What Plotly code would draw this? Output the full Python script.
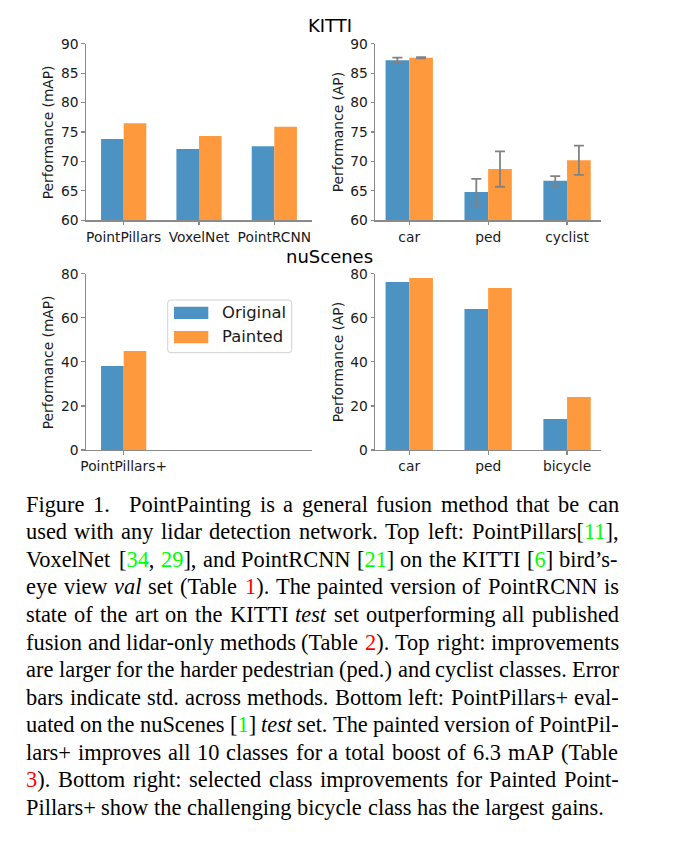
import re
import plotly.graph_objects as go

# ---------------- data ----------------
kitti_methods = ["PointPillars", "VoxelNet", "PointRCNN"]
kitti_methods_original = [73.8, 72.1, 72.6]
kitti_methods_painted = [76.5, 74.3, 75.9]

kitti_classes = ["car", "ped", "cyclist"]
kitti_classes_original = [87.2, 64.8, 66.7]
kitti_classes_painted = [87.6, 68.7, 70.2]
kitti_classes_original_std = [0.45, 2.25, 0.8]
kitti_classes_painted_std = [0.1, 3.0, 2.5]

nusc_methods = ["PointPillars+"]
nusc_methods_original = [38.1]
nusc_methods_painted = [44.9]

nusc_classes = ["car", "ped", "bicycle"]
nusc_classes_original = [76.2, 64.0, 14.1]
nusc_classes_painted = [78.0, 73.5, 24.0]

series_names = ["Original", "Painted"]
kitti_ticks = [60, 65, 70, 75, 80, 85, 90]
nusc_ticks = [0, 20, 40, 60, 80]

caption_lines = [
    "Figure 1.   PointPainting is a general fusion method that be can",
    "used with any lidar detection network. Top left: PointPillars[{g:11}],",
    "VoxelNet [{g:34}, {g:29}], and PointRCNN [{g:21}] on the KITTI [{g:6}] bird\u2019s-",
    "eye view {i:val} set (Table {r:1}). The painted version of PointRCNN is",
    "state of the art on the KITTI {i:test} set outperforming all published",
    "fusion and lidar-only methods (Table {r:2}). Top right: improvements",
    "are larger for the harder pedestrian (ped.) and cyclist classes. Error",
    "bars indicate std. across methods. Bottom left: PointPillars+ eval-",
    "uated on the nuScenes [{g:1}] {i:test} set. The painted version of PointPil-",
    "lars+ improves all 10 classes for a total boost of 6.3 mAP (Table",
    "{r:3}). Bottom right: selected class improvements for Painted Point-",
    "Pillars+ show the challenging bicycle class has the largest gains.",
]

# ---------------- styling ----------------
W, H = 692, 851
BLUE = "#4c92c3"
ORANGE = "#ff993e"
AXC = "#8a8a8a"
TXT = "#1a1a1a"
SANS = "DejaVu Sans"
TICK_FS = 13.8


def px(x):
    return x / W


def py(y):
    return 1 - y / H


LEFT_X = (86, 312)
RIGHT_X = (375.3, 601)
TOP_Y = (43.7, 220.3)
BOT_Y = (273.7, 450)

fig = go.Figure()


def add_bars(cats, orig, paint, xa, ya, err_o=None, err_p=None):
    for vals, off, col, err in ((orig, -0.3, BLUE, err_o), (paint, 0.0, ORANGE, err_p)):
        kw = {}
        if err is not None:
            kw["error_y"] = dict(type="data", array=err, visible=True,
                                 color="#828282", thickness=1.8, width=5)
        fig.add_trace(go.Bar(x=cats, y=vals, offset=off, width=0.3,
                             marker=dict(color=col, line=dict(width=0)),
                             xaxis=xa, yaxis=ya, showlegend=False, **kw))


add_bars(kitti_methods, kitti_methods_original, kitti_methods_painted, "x", "y")
add_bars(kitti_classes, kitti_classes_original, kitti_classes_painted, "x2", "y2",
         kitti_classes_original_std, kitti_classes_painted_std)
add_bars(nusc_methods, nusc_methods_original, nusc_methods_painted, "x3", "y3")
add_bars(nusc_classes, nusc_classes_original, nusc_classes_painted, "x4", "y4")

common = dict(showline=True, linecolor=AXC, linewidth=1.25, ticks="outside",
              ticklen=3.5, tickwidth=1.25, tickcolor=AXC, showgrid=False,
              zeroline=False, tickfont=dict(family=SANS, size=TICK_FS, color=TXT),
              fixedrange=True, automargin=False)


def xax(dom, rng, anchor, cats):
    return dict(domain=[px(dom[0]), px(dom[1])], range=rng, type="category",
                categoryorder="array", categoryarray=cats, anchor=anchor, **common)


def yax(dom, rng, ticks, anchor):
    return dict(domain=[py(dom[1]), py(dom[0])], range=rng, tickvals=ticks,
                anchor=anchor, **common)


fig.update_layout(
    xaxis=xax(LEFT_X, [-0.5, 2.5], "y", kitti_methods),
    yaxis=yax(TOP_Y, [60, 90], kitti_ticks, "x"),
    xaxis2=xax(RIGHT_X, [-0.43, 2.43], "y2", kitti_classes),
    yaxis2=yax(TOP_Y, [60, 90], kitti_ticks, "x2"),
    xaxis3=xax(LEFT_X, [-0.5, 2.5], "y3", nusc_methods),
    yaxis3=yax(BOT_Y, [0, 80], nusc_ticks, "x3"),
    xaxis4=xax(RIGHT_X, [-0.43, 2.43], "y4", nusc_classes),
    yaxis4=yax(BOT_Y, [0, 80], nusc_ticks, "x4"),
)

annotations = []
shapes = []

# panel titles
for txt, yc in (("KITTI", 25.5), ("nuScenes", 256.5)):
    annotations.append(dict(text=txt, x=px(329.5), y=py(yc), xref="paper", yref="paper",
                            xanchor="center", yanchor="middle", showarrow=False,
                            font=dict(family=SANS, size=18, color="#000")))

# y axis titles
for txt, xc, yc in (("Performance (mAP)", 48.3, 132), ("Performance (AP)", 338.3, 132),
                    ("Performance (mAP)", 48.3, 362), ("Performance (AP)", 338.3, 362)):
    annotations.append(dict(text=txt, x=px(xc), y=py(yc), xref="paper", yref="paper",
                            xanchor="center", yanchor="middle", showarrow=False,
                            textangle=-90, font=dict(family=SANS, size=TICK_FS, color=TXT)))

# legend (bottom-left panel)
lx0, lx1, ly0, ly1, r = 167.7, 291.7, 300, 352.7, 3
path = (f"M{px(lx0 + r)},{py(ly0)} L{px(lx1 - r)},{py(ly0)} "
        f"Q{px(lx1)},{py(ly0)} {px(lx1)},{py(ly0 + r)} L{px(lx1)},{py(ly1 - r)} "
        f"Q{px(lx1)},{py(ly1)} {px(lx1 - r)},{py(ly1)} L{px(lx0 + r)},{py(ly1)} "
        f"Q{px(lx0)},{py(ly1)} {px(lx0)},{py(ly1 - r)} L{px(lx0)},{py(ly0 + r)} "
        f"Q{px(lx0)},{py(ly0)} {px(lx0 + r)},{py(ly0)} Z")
shapes.append(dict(type="path", path=path, xref="paper", yref="paper",
                   line=dict(color="#d0d0d0", width=1), fillcolor="rgba(255,255,255,0.8)"))
for name, col, sy0, sy1, ty in ((series_names[0], BLUE, 306.7, 319, 312.7),
                                (series_names[1], ORANGE, 331, 343.3, 336.7)):
    shapes.append(dict(type="rect", xref="paper", yref="paper", x0=px(174), x1=px(208.3),
                       y0=py(sy1), y1=py(sy0), fillcolor=col, line=dict(width=0)))
    annotations.append(dict(text=name, x=px(220.7), y=py(ty), xref="paper", yref="paper",
                            xanchor="left", yanchor="middle", showarrow=False, borderpad=0,
                            font=dict(family=SANS, size=16.4, color=TXT)))

# ---------------- caption (justified, Times metrics) ----------------
TIMES = {' ': 250, '(': 333, ')': 333, '+': 564, ',': 250, '-': 333, '.': 250, ':': 278,
         '[': 333, ']': 333, '\u2019': 333, "'": 180}
for d in "0123456789":
    TIMES[d] = 500
TIMES.update(dict(zip("ABCDEFGHIJKLMNOPQRSTUVWXYZ",
                      [722, 667, 667, 722, 611, 556, 722, 722, 333, 389, 722, 611, 889,
                       722, 722, 556, 722, 667, 556, 611, 722, 722, 944, 722, 722, 611])))
TIMES.update(dict(zip("abcdefghijklmnopqrstuvwxyz",
                      [444, 500, 444, 500, 444, 333, 500, 500, 278, 278, 500, 278, 778,
                       500, 500, 500, 500, 333, 389, 278, 500, 500, 722, 500, 500, 444])))
TIMES_I = dict(TIMES)
TIMES_I.update({'a': 500, 'e': 444, 'l': 278, 's': 389, 't': 278, 'v': 444})

CF = 22.4
CX0, CX1 = 25.0, 618.0
BASE0, LSTEP = 511.7, 27.57


def parse_line(s):
    segs, pos = [], 0
    for m in re.finditer(r'\{([gri]):([^}]*)\}', s):
        if m.start() > pos:
            segs.append((s[pos:m.start()], 'n'))
        segs.append((m.group(2), m.group(1)))
        pos = m.end()
    if pos < len(s):
        segs.append((s[pos:], 'n'))
    words, gaps, pend = [[]], [], 0
    for text, st in segs:
        for ch in text:
            if ch == ' ':
                pend += 1
                continue
            if pend and words[-1]:
                gaps.append(pend)
                words.append([])
            pend = 0
            if words[-1] and words[-1][-1][1] == st:
                words[-1][-1] = (words[-1][-1][0] + ch, st)
            else:
                words[-1].append((ch, st))
    return words, gaps


def word_w(word):
    w = 0
    for text, st in word:
        tab = TIMES_I if st == 'i' else TIMES
        w += sum(tab.get(c, 500) for c in text)
    return w / 1000 * CF


def word_html(word):
    out = []
    for text, st in word:
        if st == 'g':
            out.append(f'<span style="color:#00ff00">{text}</span>')
        elif st == 'r':
            out.append(f'<span style="color:#ff0000">{text}</span>')
        elif st == 'i':
            out.append(f'<i>{text}</i>')
        else:
            out.append(text)
    return ''.join(out)


for li, line in enumerate(caption_lines):
    words, gaps = parse_line(line)
    widths = [word_w(w) for w in words]
    nat = [g * 0.25 * CF for g in gaps]
    justify = li < len(caption_lines) - 1
    stretch = (CX1 - CX0 - sum(widths) - sum(nat)) / len(gaps) if justify else 0
    x = CX0
    yc = BASE0 + li * LSTEP - 7.5
    for i, w in enumerate(words):
        annotations.append(dict(text=word_html(w), x=px(x), y=py(yc), xref="paper",
                                yref="paper", xanchor="left", yanchor="middle",
                                showarrow=False, borderpad=0,
                                font=dict(family="Liberation Serif", size=CF, color="#000")))
        if i < len(gaps):
            x += widths[i] + nat[i] + stretch

fig.update_layout(
    width=W, height=H, margin=dict(l=0, r=0, t=0, b=0),
    paper_bgcolor="white", plot_bgcolor="white", barmode="overlay",
    annotations=annotations, shapes=shapes, showlegend=False,
    font=dict(family=SANS, color=TXT), hovermode=False,
)

fig.write_html(
    "out.html",
    config={"displayModeBar": False, "staticPlot": True},
    post_script="document.documentElement.style.margin='0';"
                "document.body.style.margin='0';document.body.style.overflow='hidden';",
)
